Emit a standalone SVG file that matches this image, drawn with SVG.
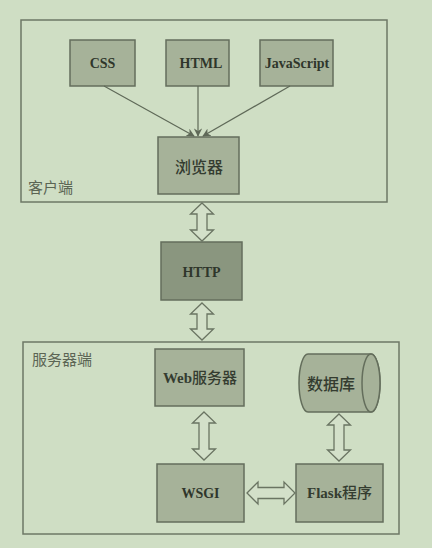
<svg xmlns="http://www.w3.org/2000/svg" width="432" height="548" viewBox="0 0 432 548">
<defs>
<style>
.bg{fill:#cfdec4}
.frame{fill:none;stroke:#6e7866;stroke-width:1.5}
.box{fill:#a6b299;stroke:#646e5c;stroke-width:1.5}
.dark{fill:#8a967f}
.lat{font-family:"Liberation Serif","DejaVu Serif",serif;font-weight:bold;font-size:14px;fill:#2f362b;text-anchor:middle;dominant-baseline:central}
.cjk{font-family:"Liberation Serif","Noto Sans CJK SC",serif;font-size:16px;font-weight:500;fill:#343c30;text-anchor:middle;dominant-baseline:central}
.lbl{font-family:"Noto Sans CJK SC",sans-serif;font-size:15px;fill:#5b6554}
.dbl{fill:#d3e0c9;stroke:#6a7462;stroke-width:1.3;stroke-linejoin:miter}
.line{fill:none;stroke:#5f6958;stroke-width:1.2}
</style>
<marker id="ah" viewBox="0 0 10 10" refX="9" refY="5" markerWidth="7" markerHeight="7" orient="auto">
<path d="M0,0 L10,5 L0,10 L3,5 Z" fill="#5f6958"/>
</marker>
</defs>
<rect class="bg" x="0" y="0" width="432" height="548"/>

<g id="client">
<rect class="frame" x="21" y="20" width="366" height="182"/>
<text class="lbl" x="28" y="193">客户端</text>
</g>
<g id="server">
<rect class="frame" x="23" y="342" width="376" height="192"/>
<text class="lbl" x="32" y="365">服务器端</text>
</g>

<g id="css"><rect class="box" x="70" y="40" width="65" height="46"/><text class="lat" x="102.5" y="63">CSS</text></g>
<g id="html"><rect class="box" x="166" y="40" width="63" height="46"/><text class="lat" x="201" y="63">HTML</text></g>
<g id="js"><rect class="box" x="260" y="40" width="73" height="46"/><text class="lat" x="297" y="63">JavaScript</text></g>
<g id="browser"><rect class="box" x="158" y="137" width="81" height="57"/><text class="cjk" x="199" y="167">浏览器</text></g>
<g id="http"><rect class="box dark" x="161" y="242" width="81" height="58"/><text class="lat" x="201.5" y="272">HTTP</text></g>
<g id="web"><rect class="box" x="155" y="349" width="89" height="57"/><text class="cjk" x="200" y="378" style="font-size:15px"><tspan style="font-weight:bold">Web</tspan>服务器</text></g>
<g id="db">
<path class="box" d="M308,354 L371,354 A9,29 0 0 1 371,412 L308,412 A9,29 0 0 1 308,354 Z"/>
<ellipse class="box" cx="371" cy="383" rx="9" ry="29"/>
<text class="cjk" x="331" y="384">数据库</text>
</g>
<g id="wsgi"><rect class="box" x="157" y="464" width="87" height="58"/><text class="lat" x="200.5" y="493">WSGI</text></g>
<g id="flask"><rect class="box" x="296" y="464" width="87" height="58"/><text class="cjk" x="339.5" y="493" style="font-size:15px"><tspan style="font-weight:bold">Flask</tspan>程序</text></g>

<g id="connectors">
<line class="line" x1="104" y1="86" x2="194" y2="136" marker-end="url(#ah)"/>
<line class="line" x1="198" y1="86" x2="198" y2="136" marker-end="url(#ah)"/>
<line class="line" x1="290" y1="86" x2="203" y2="136" marker-end="url(#ah)"/>
<path class="dbl" d="M202,203 L213.5,214 L207,214 L207,230 L213.5,230 L202,241 L190.5,230 L197,230 L197,214 L190.5,214 Z"/>
<path class="dbl" d="M202,303 L213.5,314 L207,314 L207,329 L213.5,329 L202,340 L190.5,329 L197,329 L197,314 L190.5,314 Z"/>
<path class="dbl" d="M204,412 L215.5,423 L209,423 L209,449 L215.5,449 L204,460 L192.5,449 L199,449 L199,423 L192.5,423 Z"/>
<path class="dbl" d="M339,414 L350.5,425 L344,425 L344,450 L350.5,450 L339,461 L327.5,450 L334,450 L334,425 L327.5,425 Z"/>
<path class="dbl" d="M247,493 L258,482 L258,487.5 L284,487.5 L284,482 L295,493 L284,504 L284,498.5 L258,498.5 L258,504 Z"/>
</g>
</svg>
